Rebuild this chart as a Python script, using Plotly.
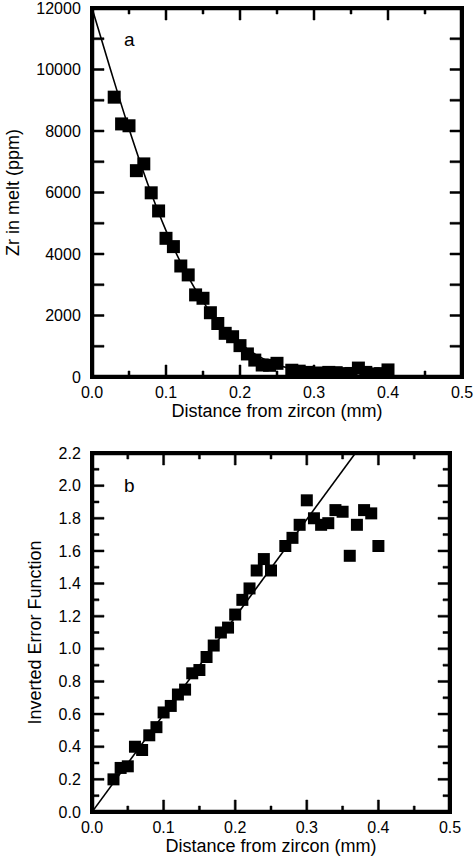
import plotly.graph_objects as go

# ---- data ----
dist = [0.03, 0.04, 0.05, 0.06, 0.07, 0.08, 0.09, 0.10, 0.11, 0.12, 0.13, 0.14,
        0.15, 0.16, 0.17, 0.18, 0.19, 0.20, 0.21, 0.22, 0.23, 0.24, 0.25,
        0.27, 0.28, 0.29, 0.30, 0.31, 0.32, 0.33, 0.34, 0.35, 0.36, 0.37,
        0.38, 0.39, 0.40]
zr_ppm = [9100, 8230, 8170, 6710, 6930, 5990, 5400, 4510, 4240, 3610, 3320, 2670,
          2560, 2090, 1740, 1420, 1310, 1020, 750, 550, 390, 380, 445,
          220, 190, 150, 100, 130, 150, 140, 110, 115, 290, 150,
          100, 110, 230]
inv_erf = [0.20, 0.27, 0.28, 0.40, 0.38, 0.47, 0.52, 0.61, 0.65, 0.72, 0.75, 0.85,
           0.87, 0.95, 1.02, 1.10, 1.13, 1.21, 1.30, 1.37, 1.48, 1.55, 1.48,
           1.63, 1.68, 1.76, 1.91, 1.80, 1.76, 1.77, 1.85, 1.84, 1.57, 1.76,
           1.85, 1.83, 1.63]

fit_a_x = [0, 0.025, 0.05, 0.075, 0.10, 0.125, 0.15, 0.175, 0.20, 0.225, 0.25, 0.30, 0.35, 0.40]
fit_a_y = [12000, 10000, 8070, 6300, 4760, 3480, 2450, 1660, 1090, 680, 400, 130, 35, 10]
fit_b_x = [0, 0.368]
fit_b_y = [0, 2.2]

# tick values
x_major = [0.1, 0.2, 0.3, 0.4]
x_minor = [0.05, 0.15, 0.25, 0.35, 0.45]
ya_ticks = [1000, 2000, 3000, 4000, 5000, 6000, 7000, 8000, 9000, 10000, 11000]
yb_major = [0.2, 0.4, 0.6, 0.8, 1.0, 1.2, 1.4, 1.6, 1.8, 2.0]
yb_minor = [0.1, 0.3, 0.5, 0.7, 0.9, 1.1, 1.3, 1.5, 1.7, 1.9, 2.1]

XR = [0, 0.5]
YRA = [0, 12000]
YRB = [0, 2.2]

FONT = "Liberation Sans, Arial, Helvetica, sans-serif"

W, H = 474, 860
PA = dict(left=92, right=462, top=8, bottom=377)   # panel a (pixels)
PB = dict(left=92, right=450, top=453, bottom=812)  # panel b (pixels)

fig = go.Figure()
fig.add_trace(go.Scatter(x=fit_a_x, y=fit_a_y, mode="lines", line=dict(color="black", width=1.6, shape="spline"),
                         xaxis="x", yaxis="y", showlegend=False, hoverinfo="skip"))
fig.add_trace(go.Scatter(x=dist, y=zr_ppm, mode="markers",
                         marker=dict(symbol="square", size=13, color="black"),
                         xaxis="x", yaxis="y", showlegend=False))
fig.add_trace(go.Scatter(x=fit_b_x, y=fit_b_y, mode="lines", line=dict(color="black", width=1.6),
                         xaxis="x2", yaxis="y2", showlegend=False, hoverinfo="skip"))
fig.add_trace(go.Scatter(x=dist, y=inv_erf, mode="markers",
                         marker=dict(symbol="square", size=12, color="black"),
                         xaxis="x2", yaxis="y2", showlegend=False))


def frame_and_ticks(xa, ya, p, yr, xticks, yticks):
    """Frame and inside tick marks as thin filled polygons, in the axes' data units."""
    pw = p["right"] - p["left"]
    ph = p["bottom"] - p["top"]
    ux = (XR[1] - XR[0]) / pw      # data units per pixel, x
    uy = (yr[1] - yr[0]) / ph      # data units per pixel, y
    px, py = [], []

    def rect(x0, x1, y0, y1):
        px.extend([x0, x1, x1, x0, x0, None])
        py.extend([y0, y0, y1, y1, y0, None])

    t = 2.0  # frame thickness, px
    x0, x1, y0, y1 = XR[0], XR[1], yr[0], yr[1]
    rect(x0, x1, y0, y0 + t * uy)            # bottom
    rect(x0, x1, y1 - t * uy, y1)            # top
    rect(x0, x0 + t * ux, y0, y1)            # left
    rect(x1 - t * ux, x1, y0, y1)            # right
    for vals, ln in xticks:
        for v in vals:
            rect(v - ux, v + ux, y0, y0 + ln * uy)
            rect(v - ux, v + ux, y1 - ln * uy, y1)
    for vals, ln in yticks:
        for v in vals:
            rect(x0, x0 + ln * ux, v - uy, v + uy)
            rect(x1 - ln * ux, x1, v - uy, v + uy)
    fig.add_trace(go.Scatter(x=px, y=py, mode="lines", fill="toself", fillcolor="black",
                             line=dict(color="black", width=0.5),
                             xaxis=xa, yaxis=ya, showlegend=False, hoverinfo="skip"))


frame_and_ticks("x", "y", PA, YRA, [(x_major, 12), (x_minor, 6)], [(ya_ticks, 12)])
frame_and_ticks("x2", "y2", PB, YRB, [(x_major, 12), (x_minor, 6)], [(yb_major, 12), (yb_minor, 7)])


def dx(p):
    return [p["left"] / W, p["right"] / W]
def dy(p):
    return [1 - p["bottom"] / H, 1 - p["top"] / H]

fig.update_layout(
    width=W, height=H, margin=dict(l=0, r=0, t=0, b=0, autoexpand=False),
    paper_bgcolor="white", plot_bgcolor="white",
    font=dict(family=FONT, color="black", size=16),
    xaxis=dict(domain=dx(PA), anchor="y", range=XR, dtick=0.1, tickformat=".1f",
               title=dict(text="Distance from zircon (mm)", standoff=2)),
    yaxis=dict(domain=dy(PA), anchor="x", range=YRA, dtick=2000, tickformat="d",
               title=dict(text="Zr in melt (ppm)", standoff=12)),
    xaxis2=dict(domain=dx(PB), anchor="y2", range=XR, dtick=0.1, tickformat=".1f",
                title=dict(text="Distance from zircon (mm)", standoff=2)),
    yaxis2=dict(domain=dy(PB), anchor="x2", range=YRB, dtick=0.2, tickformat=".1f",
                title=dict(text="Inverted Error Function", standoff=12)),
    annotations=[
        dict(text="a", x=0.051, y=10990, xref="x", yref="y", showarrow=False,
             font=dict(family=FONT, size=19, color="black")),
        dict(text="b", x=0.052, y=2.0, xref="x2", yref="y2", showarrow=False,
             font=dict(family=FONT, size=19, color="black")),
    ],
)

style = dict(showline=True, linecolor="black", linewidth=2, mirror=True,
             ticks="", showgrid=False, zeroline=False, automargin=False,
             ticklabeloverflow="allow",
             tickfont=dict(family=FONT, size=16, color="black"),
             title_font=dict(family=FONT, size=18, color="black"))
fig.update_xaxes(**style)
fig.update_yaxes(**style, ticklabelstandoff=6)

fig.write_html("out.html")
